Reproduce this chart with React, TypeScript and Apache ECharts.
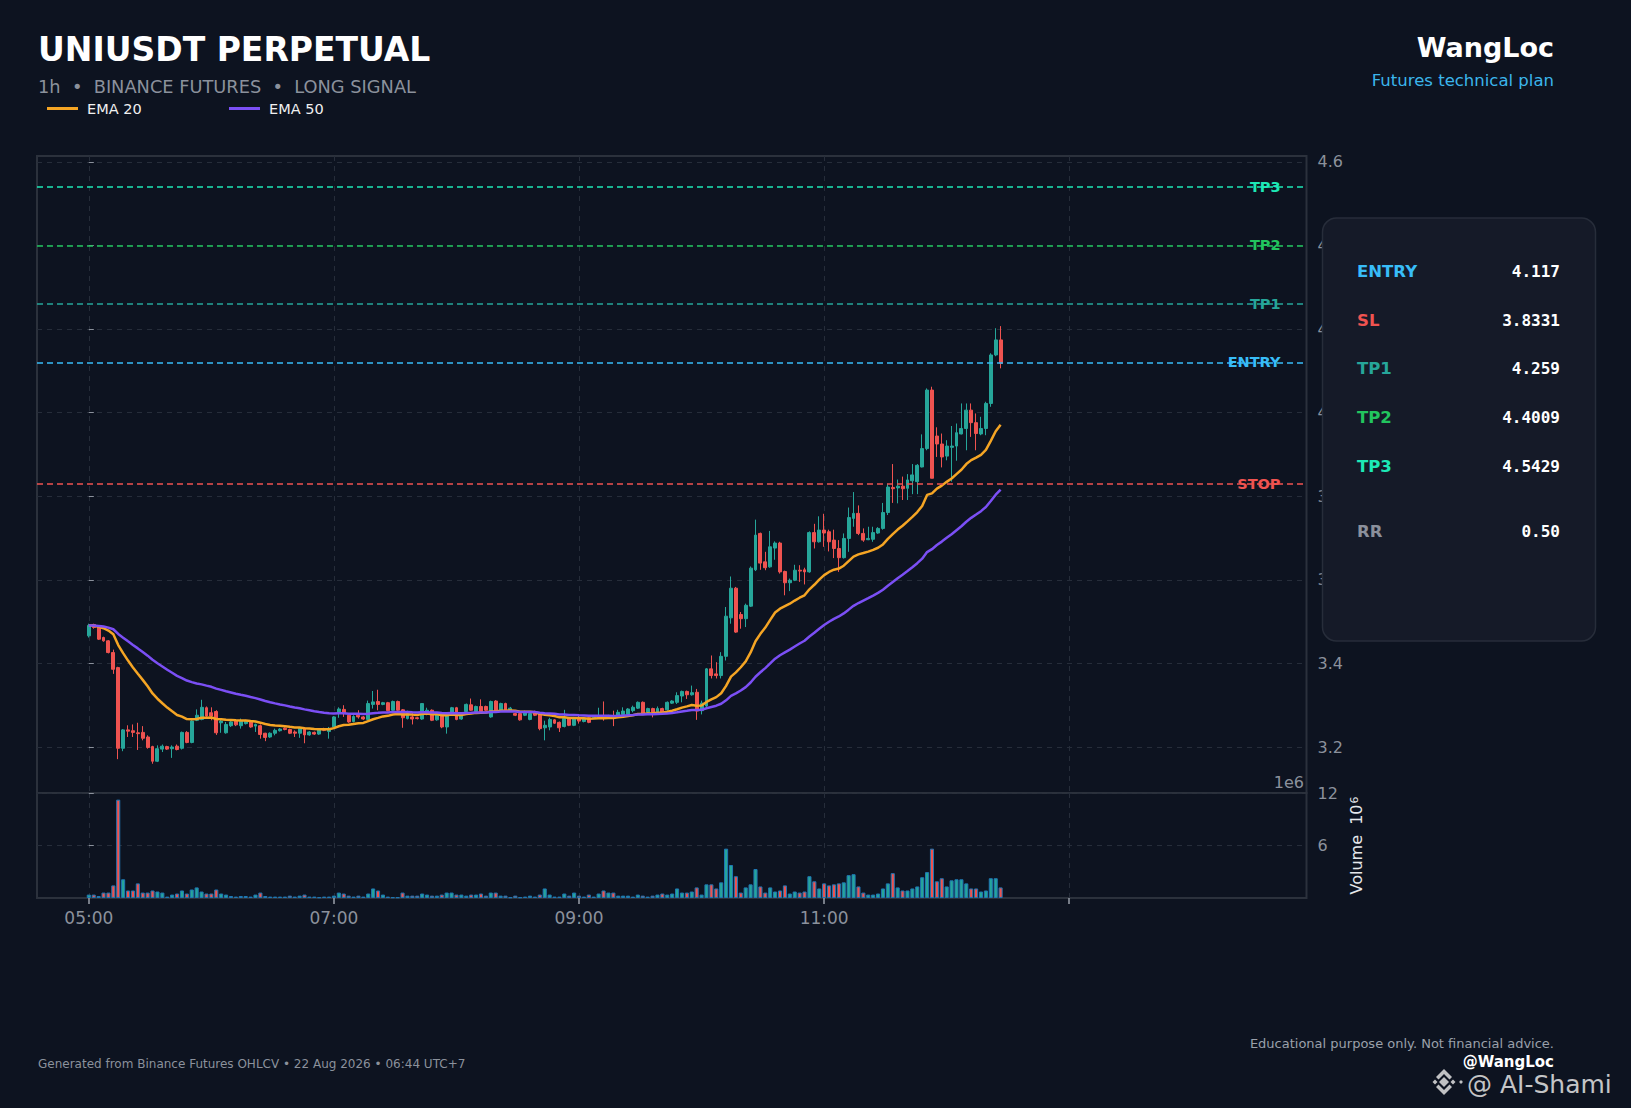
import React, { useEffect, useRef } from "react";
import * as echarts from "echarts";

const OPEN = [
  3.466, 3.493, 3.486, 3.462, 3.454, 3.426, 3.390, 3.197, 3.241, 3.239,
  3.234, 3.235, 3.224, 3.201, 3.166, 3.195, 3.201, 3.196, 3.202, 3.197,
  3.235, 3.211, 3.264, 3.266, 3.294, 3.282, 3.285, 3.258, 3.234, 3.251,
  3.262, 3.251, 3.256, 3.261, 3.250, 3.251, 3.233, 3.224, 3.233, 3.239,
  3.245, 3.242, 3.236, 3.233, 3.245, 3.229, 3.235, 3.231, 3.244, 3.237,
  3.248, 3.281, 3.290, 3.276, 3.261, 3.276, 3.272, 3.266, 3.302, 3.309,
  3.302, 3.306, 3.288, 3.309, 3.289, 3.268, 3.272, 3.270, 3.267, 3.285,
  3.288, 3.265, 3.274, 3.248, 3.283, 3.294, 3.267, 3.285, 3.301, 3.285,
  3.297, 3.297, 3.272, 3.310, 3.288, 3.304, 3.286, 3.280, 3.280, 3.276,
  3.266, 3.285, 3.279, 3.246, 3.248, 3.265, 3.259, 3.249, 3.268, 3.252,
  3.270, 3.261, 3.270, 3.270, 3.271, 3.275, 3.271, 3.275, 3.273, 3.278,
  3.278, 3.287, 3.293, 3.307, 3.283, 3.292, 3.284, 3.292, 3.289, 3.305,
  3.307, 3.322, 3.333, 3.325, 3.331, 3.287, 3.298, 3.387, 3.375, 3.371,
  3.417, 3.509, 3.580, 3.517, 3.507, 3.537, 3.624, 3.711, 3.643, 3.631,
  3.676, 3.688, 3.620, 3.593, 3.599, 3.623, 3.624, 3.619, 3.713, 3.691,
  3.719, 3.715, 3.695, 3.675, 3.653, 3.699, 3.747, 3.759, 3.711, 3.696,
  3.697, 3.712, 3.723, 3.761, 3.821, 3.820, 3.824, 3.819, 3.837, 3.835,
  3.870, 3.914, 4.054, 3.944, 3.925, 3.896, 3.917, 3.920, 3.949, 3.962,
  4.006, 3.976, 3.949, 3.962, 4.022, 4.138, 4.174,
];

const CLOSE = [
  3.491, 3.486, 3.458, 3.454, 3.426, 3.386, 3.197, 3.241, 3.238, 3.235,
  3.232, 3.221, 3.199, 3.166, 3.196, 3.202, 3.195, 3.200, 3.194, 3.235,
  3.211, 3.262, 3.276, 3.295, 3.274, 3.274, 3.234, 3.262, 3.254, 3.260,
  3.253, 3.262, 3.262, 3.248, 3.254, 3.230, 3.223, 3.233, 3.240, 3.243,
  3.242, 3.233, 3.233, 3.245, 3.229, 3.236, 3.231, 3.241, 3.240, 3.242,
  3.272, 3.291, 3.280, 3.260, 3.273, 3.272, 3.267, 3.304, 3.308, 3.302,
  3.306, 3.287, 3.309, 3.288, 3.270, 3.285, 3.267, 3.268, 3.304, 3.288,
  3.264, 3.281, 3.248, 3.276, 3.294, 3.266, 3.280, 3.302, 3.288, 3.297,
  3.285, 3.288, 3.309, 3.285, 3.304, 3.289, 3.293, 3.276, 3.265, 3.285,
  3.280, 3.276, 3.244, 3.252, 3.266, 3.257, 3.246, 3.268, 3.252, 3.270,
  3.262, 3.268, 3.259, 3.273, 3.275, 3.271, 3.275, 3.270, 3.283, 3.286,
  3.291, 3.295, 3.307, 3.281, 3.292, 3.283, 3.292, 3.284, 3.307, 3.310,
  3.323, 3.333, 3.325, 3.330, 3.286, 3.305, 3.387, 3.371, 3.371, 3.417,
  3.513, 3.580, 3.475, 3.507, 3.539, 3.628, 3.707, 3.640, 3.629, 3.679,
  3.688, 3.619, 3.593, 3.599, 3.623, 3.621, 3.619, 3.713, 3.691, 3.719,
  3.712, 3.691, 3.675, 3.653, 3.699, 3.749, 3.759, 3.711, 3.695, 3.699,
  3.713, 3.723, 3.761, 3.822, 3.818, 3.824, 3.818, 3.839, 3.851, 3.874,
  3.914, 4.054, 3.843, 3.925, 3.894, 3.920, 3.920, 3.952, 3.962, 4.006,
  3.976, 3.950, 3.962, 4.022, 4.138, 4.174, 4.118,
];

const HIGH = [
  3.495, 3.495, 3.488, 3.464, 3.456, 3.433, 3.392, 3.243, 3.252, 3.254,
  3.258, 3.250, 3.228, 3.203, 3.204, 3.206, 3.203, 3.204, 3.206, 3.237,
  3.238, 3.264, 3.290, 3.313, 3.297, 3.295, 3.288, 3.268, 3.260, 3.262,
  3.265, 3.268, 3.265, 3.264, 3.256, 3.254, 3.234, 3.235, 3.244, 3.245,
  3.247, 3.244, 3.240, 3.248, 3.248, 3.238, 3.237, 3.243, 3.246, 3.248,
  3.274, 3.295, 3.300, 3.278, 3.276, 3.288, 3.274, 3.311, 3.334, 3.337,
  3.308, 3.308, 3.311, 3.311, 3.291, 3.287, 3.284, 3.272, 3.305, 3.294,
  3.290, 3.283, 3.276, 3.280, 3.296, 3.296, 3.282, 3.304, 3.316, 3.299,
  3.314, 3.299, 3.311, 3.312, 3.306, 3.306, 3.296, 3.282, 3.282, 3.287,
  3.282, 3.287, 3.281, 3.263, 3.270, 3.267, 3.261, 3.289, 3.270, 3.272,
  3.275, 3.270, 3.275, 3.275, 3.294, 3.309, 3.277, 3.287, 3.289, 3.295,
  3.293, 3.299, 3.309, 3.309, 3.294, 3.294, 3.297, 3.294, 3.309, 3.312,
  3.331, 3.335, 3.335, 3.347, 3.339, 3.311, 3.389, 3.419, 3.403, 3.427,
  3.535, 3.608, 3.583, 3.523, 3.543, 3.632, 3.744, 3.713, 3.667, 3.717,
  3.692, 3.691, 3.622, 3.603, 3.636, 3.635, 3.629, 3.716, 3.734, 3.752,
  3.758, 3.720, 3.720, 3.695, 3.711, 3.773, 3.810, 3.778, 3.723, 3.727,
  3.727, 3.726, 3.784, 3.830, 3.877, 3.840, 3.847, 3.853, 3.877, 3.877,
  3.948, 4.058, 4.062, 3.965, 3.950, 3.934, 3.968, 3.974, 4.022, 4.022,
  4.022, 3.998, 3.990, 4.026, 4.142, 4.202, 4.207,
];

const LOW = [
  3.462, 3.483, 3.456, 3.452, 3.424, 3.375, 3.171, 3.190, 3.224, 3.224,
  3.193, 3.216, 3.196, 3.160, 3.164, 3.188, 3.193, 3.174, 3.192, 3.194,
  3.209, 3.209, 3.262, 3.264, 3.272, 3.264, 3.229, 3.234, 3.232, 3.248,
  3.250, 3.244, 3.254, 3.246, 3.236, 3.220, 3.214, 3.222, 3.228, 3.237,
  3.240, 3.231, 3.224, 3.222, 3.209, 3.227, 3.229, 3.229, 3.238, 3.220,
  3.246, 3.270, 3.272, 3.258, 3.259, 3.268, 3.265, 3.264, 3.292, 3.288,
  3.300, 3.285, 3.286, 3.286, 3.246, 3.266, 3.254, 3.266, 3.265, 3.276,
  3.262, 3.263, 3.245, 3.232, 3.281, 3.264, 3.265, 3.283, 3.286, 3.283,
  3.280, 3.286, 3.270, 3.283, 3.286, 3.287, 3.284, 3.274, 3.263, 3.274,
  3.264, 3.274, 3.240, 3.216, 3.240, 3.255, 3.236, 3.247, 3.250, 3.250,
  3.256, 3.259, 3.257, 3.267, 3.269, 3.263, 3.269, 3.250, 3.270, 3.275,
  3.276, 3.283, 3.291, 3.279, 3.281, 3.271, 3.282, 3.282, 3.287, 3.303,
  3.303, 3.307, 3.315, 3.323, 3.265, 3.278, 3.294, 3.364, 3.364, 3.364,
  3.407, 3.495, 3.473, 3.483, 3.487, 3.535, 3.621, 3.624, 3.623, 3.629,
  3.648, 3.615, 3.563, 3.573, 3.597, 3.595, 3.589, 3.617, 3.675, 3.689,
  3.679, 3.668, 3.652, 3.619, 3.651, 3.667, 3.727, 3.707, 3.691, 3.695,
  3.691, 3.710, 3.720, 3.755, 3.784, 3.783, 3.791, 3.791, 3.805, 3.805,
  3.869, 3.910, 3.843, 3.894, 3.869, 3.886, 3.835, 3.885, 3.948, 3.910,
  3.942, 3.910, 3.946, 3.946, 4.014, 4.135, 4.106,
];

// volume in millions
const VOLUME_M = [
  0.39, 0.39, 0.23, 0.62, 0.62, 1.44, 11.24, 2.14, 0.86, 0.86,
  1.67, 0.62, 0.62, 0.86, 0.74, 0.62, 0.16, 0.39, 0.51, 0.86,
  0.51, 0.97, 1.21, 0.74, 0.51, 0.51, 0.97, 0.51, 0.39, 0.23,
  0.16, 0.23, 0.23, 0.16, 0.39, 0.62, 0.23, 0.16, 0.16, 0.16,
  0.16, 0.27, 0.16, 0.27, 0.39, 0.16, 0.16, 0.08, 0.16, 0.16,
  0.27, 0.62, 0.51, 0.27, 0.16, 0.27, 0.16, 0.51, 1.09, 0.86,
  0.39, 0.16, 0.08, 0.08, 0.62, 0.27, 0.27, 0.27, 0.51, 0.39,
  0.27, 0.27, 0.39, 0.62, 0.62, 0.39, 0.39, 0.27, 0.39, 0.39,
  0.51, 0.27, 0.62, 0.62, 0.27, 0.27, 0.08, 0.27, 0.08, 0.16,
  0.27, 0.16, 0.39, 1.09, 0.39, 0.16, 0.16, 0.51, 0.27, 0.62,
  0.27, 0.16, 0.39, 0.16, 0.51, 0.86, 0.62, 0.62, 0.27, 0.27,
  0.27, 0.16, 0.39, 0.27, 0.16, 0.27, 0.39, 0.51, 0.39, 0.51,
  1.09, 0.62, 0.62, 0.74, 1.21, 0.39, 1.56, 1.56, 1.09, 1.79,
  5.64, 3.77, 2.49, 0.62, 1.21, 1.56, 3.31, 1.32, 0.62, 1.21,
  0.74, 0.86, 1.44, 0.51, 0.74, 0.62, 0.74, 2.49, 1.91, 1.09,
  1.67, 1.44, 1.56, 1.67, 1.79, 2.61, 2.72, 1.32, 0.62, 0.39,
  0.39, 0.51, 1.09, 1.67, 2.84, 1.21, 0.86, 0.86, 1.09, 1.32,
  2.37, 2.96, 5.64, 1.91, 2.26, 1.32, 2.02, 2.14, 2.14, 1.67,
  1.09, 1.09, 0.74, 0.86, 2.26, 2.26, 1.21,
];

const TIME_LABELS = ["05:00", "07:00", "09:00", "11:00"];
const TIME_LABEL_IDX = [0, 50, 100, 150];
const TIME_TICK_IDX = [0, 50, 100, 150, 200];
const PRICE_TICKS = [3.2, 3.4, 3.6, 3.8, 4.0, 4.2, 4.4, 4.6];
const VOLUME_TICKS = [6, 12];

const LEVEL_NAMES = ["TP3", "TP2", "TP1", "ENTRY", "STOP"];
const LEVEL_VALUES = [4.5429, 4.4009, 4.259, 4.117, 3.8331];
const LEVEL_COLORS = ["#1de9b6", "#22c55e", "#26a69a", "#38bdf8", "#ef5350"];

const PANEL_LABELS = ["ENTRY", "SL", "TP1", "TP2", "TP3", "RR"];
const PANEL_VALUES = ["4.117", "3.8331", "4.259", "4.4009", "4.5429", "0.50"];
const PANEL_COLORS = ["#38bdf8", "#ef5350", "#26a69a", "#22c55e", "#1de9b6", "#8b909c"];
const PANEL_ROW_Y = [271, 320, 368, 417, 466, 531];

const BG = "#0d1320";
const UP = "#26a69a";
const DOWN = "#ef5350";
const GRID_LINE = "#262d3a";
const AXIS_TEXT = "#8b919c";
const FRAME = "#2b313c";

function ema(values: number[], n: number): number[] {
  const k = 2 / (n + 1);
  const out: number[] = [];
  let e = values[0];
  values.forEach((v, i) => {
    e = i === 0 ? v : v * k + e * (1 - k);
    out.push(e);
  });
  return out;
}

export default function App() {
  const ref = useRef<HTMLDivElement>(null);

  useEffect(() => {
    document.body.style.margin = "0";
    document.body.style.background = BG;
    if (!ref.current) return;
    const chart = echarts.init(ref.current, undefined, { renderer: "svg" });

    const ema20 = ema(CLOSE, 20);
    const ema50 = ema(CLOSE, 50);
    const xMin = -10.57;
    const xMax = 248.4;

    const dashed = { color: GRID_LINE, type: [5, 5] as number[], width: 1 };
    const iconFill = "rgba(225,225,225,0.85)";

    const graphics: any[] = [
      {
        type: "text", x: 38, y: 49,
        style: { text: "UNIUSDT PERPETUAL", fill: "#ffffff", font: 'bold 33px "DejaVu Sans"', verticalAlign: "middle" },
      },
      {
        type: "text", x: 38, y: 86,
        style: { text: "1h  •  BINANCE FUTURES  •  LONG SIGNAL", fill: AXIS_TEXT, font: '17.8px "DejaVu Sans"', verticalAlign: "middle" },
      },
      {
        type: "text", x: 1554, y: 47,
        style: { text: "WangLoc", fill: "#ffffff", font: 'bold 27px "DejaVu Sans"', align: "right", verticalAlign: "middle" },
      },
      {
        type: "text", x: 1554, y: 80,
        style: { text: "Futures technical plan", fill: "#3bb6ec", font: '16.5px "DejaVu Sans"', align: "right", verticalAlign: "middle" },
      },
      {
        type: "text", x: 1304, y: 782,
        style: { text: "1e6", fill: AXIS_TEXT, font: '16px "DejaVu Sans"', align: "right", verticalAlign: "middle" },
      },
      {
        type: "rect", z: 100,
        shape: { x: 1322.5, y: 218, width: 273, height: 423, r: 14 },
        style: { fill: "#151a28", stroke: "#272d3a", lineWidth: 1.5 },
      },
      {
        type: "text", x: 38, y: 1064,
        style: { text: "Generated from Binance Futures OHLCV • 22 Aug 2026 • 06:44 UTC+7", fill: AXIS_TEXT, font: '12px "DejaVu Sans"', verticalAlign: "middle" },
      },
      {
        type: "text", x: 1554, y: 1043,
        style: { text: "Educational purpose only. Not financial advice.", fill: "#9aa0aa", font: '13px "DejaVu Sans"', align: "right", verticalAlign: "middle" },
      },
      {
        type: "text", x: 1554, y: 1062,
        style: { text: "@WangLoc", fill: "#ffffff", font: 'bold 15px "DejaVu Sans"', align: "right", verticalAlign: "middle" },
      },
      {
        type: "polygon", z: 50,
        shape: { points: [[1444, 1077], [1449, 1082], [1444, 1087], [1439, 1082]] },
        style: { fill: iconFill },
      },
      {
        type: "polygon", z: 50,
        shape: { points: [[1435, 1079.5], [1437.5, 1082], [1435, 1084.5], [1432.5, 1082]] },
        style: { fill: iconFill },
      },
      {
        type: "polygon", z: 50,
        shape: { points: [[1453, 1079.5], [1455.5, 1082], [1453, 1084.5], [1450.5, 1082]] },
        style: { fill: iconFill },
      },
      {
        type: "polygon", z: 50,
        shape: { points: [[1444, 1069], [1452, 1077], [1449.5, 1079.5], [1444, 1074], [1438.5, 1079.5], [1436, 1077]] },
        style: { fill: iconFill },
      },
      {
        type: "polygon", z: 50,
        shape: { points: [[1444, 1095], [1452, 1087], [1449.5, 1084.5], [1444, 1090], [1438.5, 1084.5], [1436, 1087]] },
        style: { fill: iconFill },
      },
      {
        type: "circle", z: 50,
        shape: { cx: 1461, cy: 1082, r: 1.6 },
        style: { fill: iconFill },
      },
      {
        type: "text", x: 1467, y: 1084, z: 51,
        style: { text: "@ AI-Shami", fill: "rgba(230,230,230,0.85)", font: '25px "DejaVu Sans"', verticalAlign: "middle" },
      },
    ];

    PANEL_LABELS.forEach((lab, k) => {
      graphics.push({
        type: "text", x: 1357, y: PANEL_ROW_Y[k], z: 101,
        style: { text: lab, fill: PANEL_COLORS[k], font: 'bold 16.5px "DejaVu Sans"', verticalAlign: "middle" },
      });
      graphics.push({
        type: "text", x: 1560, y: PANEL_ROW_Y[k], z: 101,
        style: { text: PANEL_VALUES[k], fill: "#ffffff", font: 'bold 16px "DejaVu Sans Mono"', align: "right", verticalAlign: "middle" },
      });
    });

    const legendBase = {
      top: 101,
      padding: 0,
      itemWidth: 31,
      itemHeight: 3,
      icon: "rect",
      textStyle: { color: "#f0f0f0", fontSize: 14.5, fontFamily: "DejaVu Sans", padding: [0, 0, 0, 4] },
    };

    const option: any = {
      animation: false,
      backgroundColor: BG,
      textStyle: { fontFamily: "DejaVu Sans" },
      legend: [
        { ...legendBase, left: 47, data: ["EMA 20"] },
        { ...legendBase, left: 229, data: ["EMA 50"] },
      ],
      grid: [
        { left: 37, top: 156, width: 1269.5, height: 637, show: true, borderColor: FRAME, borderWidth: 2, backgroundColor: "transparent" },
        { left: 37, top: 793, width: 1269.5, height: 105, show: true, borderColor: FRAME, borderWidth: 2, backgroundColor: "transparent" },
      ],
      xAxis: [
        {
          type: "value", gridIndex: 0, min: xMin, max: xMax,
          axisLine: { show: false },
          axisTick: { show: false, customValues: TIME_TICK_IDX },
          axisLabel: { show: false },
          splitLine: { show: true, lineStyle: dashed },
        },
        {
          type: "value", gridIndex: 1, min: xMin, max: xMax,
          axisLine: { show: false },
          axisTick: { show: true, customValues: TIME_TICK_IDX, length: 6, lineStyle: { color: "#9aa0aa", width: 1.5 } },
          axisLabel: {
            customValues: TIME_LABEL_IDX,
            formatter: (v: number) => {
              const k = TIME_LABEL_IDX.indexOf(Math.round(v));
              return k >= 0 ? TIME_LABELS[k] : "";
            },
            color: AXIS_TEXT, fontSize: 17, margin: 11, fontFamily: "DejaVu Sans",
          },
          splitLine: { show: true, lineStyle: dashed },
        },
      ],
      yAxis: [
        {
          type: "value", gridIndex: 0, position: "right", min: 3.09, max: 4.614,
          axisLine: { show: false },
          axisTick: { show: true, customValues: PRICE_TICKS, length: 5, lineStyle: { color: AXIS_TEXT } },
          axisLabel: {
            customValues: PRICE_TICKS,
            formatter: (v: number) => v.toFixed(1),
            color: AXIS_TEXT, fontSize: 16, margin: 11, fontFamily: "DejaVu Sans",
          },
          splitLine: { show: true, lineStyle: dashed },
        },
        {
          type: "value", gridIndex: 1, position: "right", min: 0, max: 12,
          axisLine: { show: false },
          axisTick: { show: true, customValues: VOLUME_TICKS, length: 5, lineStyle: { color: AXIS_TEXT } },
          axisLabel: {
            customValues: VOLUME_TICKS,
            formatter: (v: number) => String(v),
            color: AXIS_TEXT, fontSize: 16, margin: 11, fontFamily: "DejaVu Sans",
          },
          splitLine: { show: true, lineStyle: dashed },
          name: "Volume  10{sup|6}",
          nameLocation: "middle",
          nameGap: 41,
          nameRotate: 90,
          nameTextStyle: {
            color: "#e6e8ec", fontSize: 16, fontFamily: "DejaVu Sans",
            rich: { sup: { color: "#e6e8ec", fontSize: 11, fontFamily: "DejaVu Sans", verticalAlign: "top", padding: [0, 0, 0, 1] } },
          },
        },
      ],
      series: [
        {
          type: "candlestick",
          name: "UNIUSDT",
          xAxisIndex: 0,
          yAxisIndex: 0,
          barWidth: 3.4,
          data: OPEN.map((o, i) => [i, o, CLOSE[i], LOW[i], HIGH[i]]),
          itemStyle: { color: UP, color0: DOWN, borderColor: UP, borderColor0: DOWN, borderWidth: 1 },
          markLine: {
            silent: true,
            symbol: ["none", "none"],
            animation: false,
            data: LEVEL_VALUES.map((v, k) => ({
              yAxis: v,
              lineStyle: { color: LEVEL_COLORS[k], type: [6, 4], width: 1.6 },
              label: {
                show: true,
                formatter: LEVEL_NAMES[k],
                position: "insideEnd",
                distance: [26, 0],
                color: LEVEL_COLORS[k],
                fontFamily: "DejaVu Sans",
                fontWeight: "bold",
                fontSize: 14.5,
              },
            })),
          },
        },
        {
          type: "line",
          name: "EMA 20",
          xAxisIndex: 0,
          yAxisIndex: 0,
          showSymbol: false,
          symbol: "none",
          data: ema20.map((v, i) => [i, v]),
          lineStyle: { color: "#f5a524", width: 2.5 },
          itemStyle: { color: "#f5a524" },
          z: 4,
        },
        {
          type: "line",
          name: "EMA 50",
          xAxisIndex: 0,
          yAxisIndex: 0,
          showSymbol: false,
          symbol: "none",
          data: ema50.map((v, i) => [i, v]),
          lineStyle: { color: "#7b4ff5", width: 2.5 },
          itemStyle: { color: "#7b4ff5" },
          z: 4,
        },
        {
          type: "bar",
          name: "Volume",
          xAxisIndex: 1,
          yAxisIndex: 1,
          barWidth: 4.1,
          data: VOLUME_M.map((v, i) => ({
            value: [i, v],
            itemStyle: { color: CLOSE[i] >= OPEN[i] ? UP : DOWN },
          })),
          itemStyle: { borderColor: "#1f77b4", borderWidth: 1 },
        },
      ],
      graphic: { elements: graphics },
    };

    chart.setOption(option);
    return () => chart.dispose();
  }, []);

  return <div ref={ref} style={{ width: 1631, height: 1108 }} />;
}
